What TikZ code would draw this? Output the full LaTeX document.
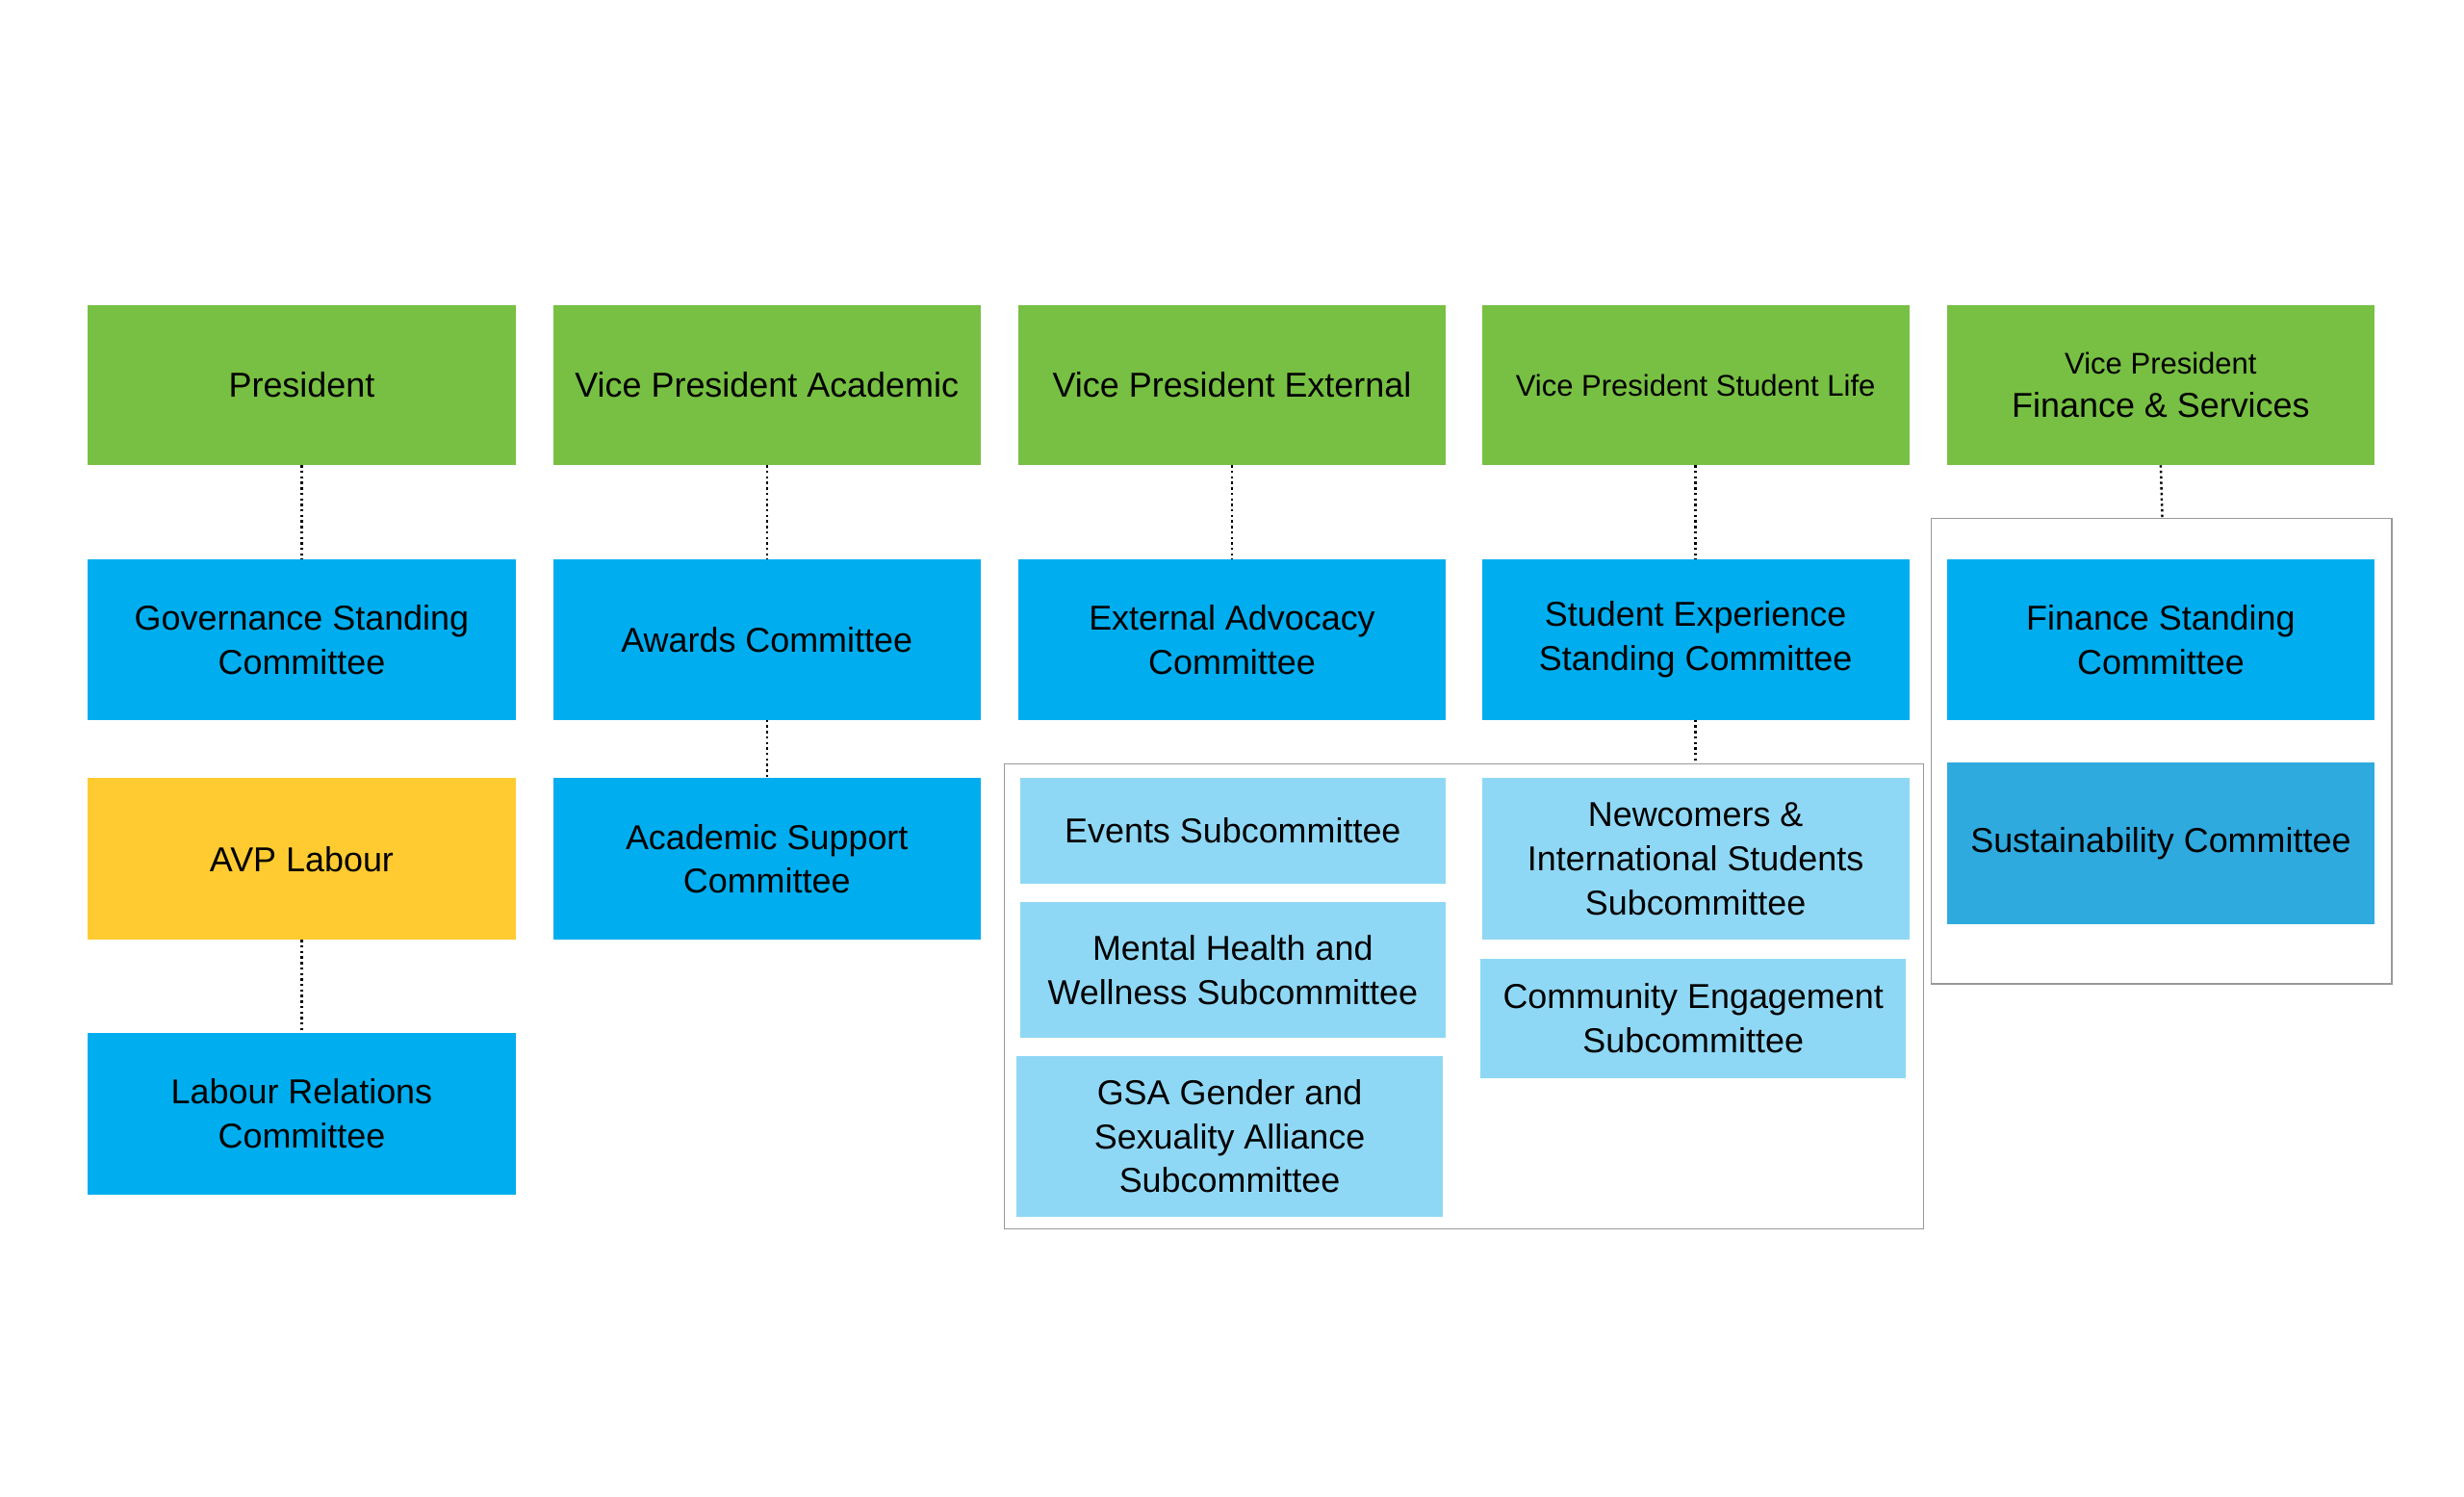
\documentclass[tikz,border=0pt]{standalone}
\usepackage{fontspec}
\setmainfont{Liberation Sans}
\definecolor{gr}{HTML}{77C043}
\definecolor{bl}{HTML}{00AEEF}
\definecolor{lb}{HTML}{8FD8F5}
\definecolor{yl}{HTML}{FFCB31}
\definecolor{db}{HTML}{2EAADF}
\begin{document}
\begin{tikzpicture}[x=1pt,y=-1pt,
  bx/.style={draw=none,align=center,inner sep=0pt,font=\fontsize{22}{28}\selectfont},
  grp/.style={draw=gray!80,line width=0.8pt},
  dt/.style={dotted,line width=1.5pt}]
\useasboundingbox (0,0) rectangle (1568,952);
\newcommand\bxx[7]{\fill[#6] (#2,#3) rectangle (#4,#5); \node[bx] (#1) at ({(#2+#4)/2},{(#3+#5)/2}) {#7};
 \coordinate (#1n) at ({(#2+#4)/2},#3); \coordinate (#1s) at ({(#2+#4)/2},#5);}
\draw[grp] (639,486) rectangle (1224,782);
\draw[grp] (1229,330) rectangle (1522,626);
\coordinate (g1n) at (1376,330);
\coordinate (g2n) at (1079,486);
\bxx{p}{56}{194}{328}{296}{gr}{President}
\bxx{va}{352}{194}{624}{296}{gr}{Vice President Academic}
\bxx{ve}{648}{194}{920}{296}{gr}{Vice President External}
\bxx{vs}{943}{194}{1215}{296}{gr}{\fontsize{19}{24}\selectfont Vice President Student Life}
\bxx{vf}{1239}{194}{1511}{296}{gr}{\fontsize{19}{25}\selectfont Vice President\\Finance \& Services}
\bxx{gs}{56}{356}{328}{458}{bl}{Governance Standing\\Committee}
\bxx{aw}{352}{356}{624}{458}{bl}{Awards Committee}
\bxx{ea}{648}{356}{920}{458}{bl}{External Advocacy\\Committee}
\bxx{se}{943}{356}{1215}{458}{bl}{Student Experience\\Standing Committee}
\bxx{fs}{1239}{356}{1511}{458}{bl}{Finance Standing\\Committee}
\bxx{avp}{56}{495}{328}{598}{yl}{AVP Labour}
\bxx{lr}{56}{657}{328}{760}{bl}{Labour Relations\\Committee}
\bxx{as}{352}{495}{624}{598}{bl}{Academic Support\\Committee}
\bxx{ev}{649}{495}{920}{562}{lb}{Events Subcommittee}
\bxx{mh}{649}{574}{920}{660}{lb}{Mental Health and\\Wellness Subcommittee}
\bxx{gsa}{647}{672}{918}{774}{lb}{GSA Gender and\\Sexuality Alliance\\Subcommittee}
\bxx{nw}{943}{495}{1215}{598}{lb}{Newcomers \&\\International Students\\Subcommittee}
\bxx{ce}{942}{610}{1213}{686}{lb}{Community Engagement\\Subcommittee}
\bxx{su}{1239}{485}{1511}{588}{db}{Sustainability Committee}
\draw[dt] (ps) -- (gsn);
\draw[dt] (vas) -- (awn);
\draw[dt] (ves) -- (ean);
\draw[dt] (vss) -- (sen);
\draw[dt] (vfs) -- (g1n);
\draw[dt] (aws) -- (asn);
\draw[dt] (ses) -- (g2n);
\draw[dt] (avps) -- (lrn);
\end{tikzpicture}
\end{document}
